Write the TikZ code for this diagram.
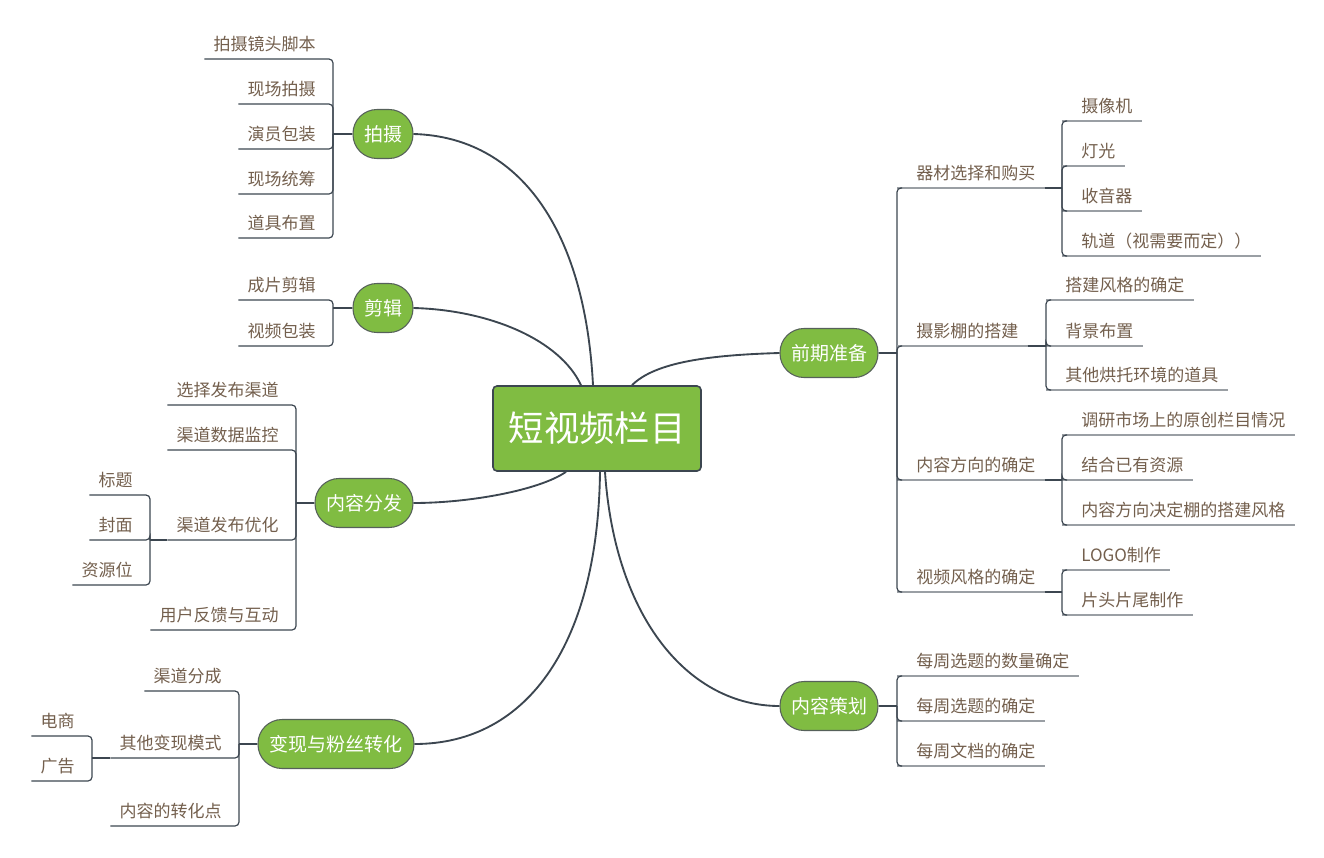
\documentclass[tikz,border=0pt]{standalone}
\usepackage{fontspec}
\setmainfont{Noto Sans CJK SC}
\usetikzlibrary{calc}
\definecolor{lineC}{HTML}{3C4650}
\definecolor{ulC}{HTML}{9A9FA4}
\definecolor{txtC}{HTML}{735F4D}
\definecolor{grn}{HTML}{80BC42}
\definecolor{bord}{HTML}{56615A}
\begin{document}
\begin{tikzpicture}[x=0.75pt,y=-0.75pt,
  every node/.style={font=\fontsize{12.75pt}{14pt}\selectfont},
  leaf/.style={text=txtC, inner xsep=6.75pt, inner ysep=6.5pt, text height=11.5pt, text depth=0pt},
  lleaf/.style={leaf, anchor=south east},
  rleaf/.style={leaf, anchor=south west},
  mainnode/.style={fill=grn, draw=bord, line width=0.8pt, rounded corners=18pt, minimum height=36.75pt, inner xsep=0pt, text=white, font=\fontsize{14.25pt}{16pt}\selectfont},
  brk/.style={draw=lineC, line width=0.9pt, rounded corners=3pt},
  ulR/.style={draw=ulC, line width=1.1pt},
  ext/.style={draw=lineC, line width=1.3pt},
  stem/.style={draw=lineC, line width=1.5pt},
  curveC/.style={draw=lineC, line width=1.4pt},
]
\useasboundingbox (0,0) rectangle (1324,857);

% central node
\node[fill=grn, draw=lineC, line width=1.2pt, rounded corners=3pt, minimum width=156pt, minimum height=63.75pt, inner sep=0pt, text=white, font=\fontsize{26.5pt}{30pt}\selectfont] (C) at (597,428.5) {短视频栏目};

% main nodes
\node[mainnode, minimum width=45pt] (P) at (383,134) {拍摄};
\node[mainnode, minimum width=45pt] (J) at (383,308) {剪辑};
\node[mainnode, minimum width=73.5pt] (F) at (364,503) {内容分发};
\node[mainnode, minimum width=117pt] (B) at (336,744) {变现与粉丝转化};
\node[mainnode, minimum width=73.5pt] (Q) at (829,353) {前期准备};
\node[mainnode, minimum width=73.5pt] (N) at (829,706) {内容策划};

% curves
\draw[curveC] ($(C.north)+(-4,0)$) .. controls (585,230) and (520,137) .. (P.east);
\draw[curveC] ($(C.north)+(-16,0)$) .. controls (560,340) and (490,310) .. (J.east);
\draw[curveC] ($(C.south)+(-31,0)$) .. controls (540,490) and (470,503) .. (F.east);
\draw[curveC] ($(C.south)+(3,0)$) .. controls (598,640) and (530,744) .. (B.east);
\draw[curveC] ($(C.north)+(35,0)$) .. controls (655,362) and (710,355) .. (Q.west);
\draw[curveC] ($(C.south)+(8,0)$) .. controls (615,620) and (690,706) .. (N.west);

% ---------- 拍摄 ----------
\coordinate (jP) at (333,134);
\draw[stem] (P.west) -- (jP);
\node[lleaf] (p1) at (325,59) {拍摄镜头脚本};
\node[lleaf] (p2) at (325,104) {现场拍摄};
\node[lleaf] (p3) at (325,149) {演员包装};
\node[lleaf] (p4) at (325,194) {现场统筹};
\node[lleaf] (p5) at (325,238) {道具布置};
\foreach \n in {p1,p2,p3,p4,p5} \draw[brk] (jP) |- (\n.south east) -- (\n.south west);

% ---------- 剪辑 ----------
\coordinate (jJ) at (333,308);
\draw[stem] (J.west) -- (jJ);
\node[lleaf] (j1) at (325,300) {成片剪辑};
\node[lleaf] (j2) at (325,346) {视频包装};
\foreach \n in {j1,j2} \draw[brk] (jJ) |- (\n.south east) -- (\n.south west);

% ---------- 内容分发 ----------
\coordinate (jF) at (296,503);
\draw[stem] (F.west) -- (jF);
\node[lleaf] (f1) at (288,405) {选择发布渠道};
\node[lleaf] (f2) at (288,450) {渠道数据监控};
\node[lleaf] (f3) at (288,540) {渠道发布优化};
\node[lleaf] (f4) at (288,630) {用户反馈与互动};
\foreach \n in {f1,f2,f3,f4} \draw[brk] (jF) |- (\n.south east) -- (\n.south west);
\coordinate (jF3) at (150,540);
\draw[ext] (f3.south west) -- (jF3);
\node[lleaf] (g1) at (142,495) {标题};
\node[lleaf] (g2) at (142,540) {封面};
\node[lleaf] (g3) at (142,585) {资源位};
\foreach \n in {g1,g2,g3} \draw[brk] (jF3) |- (\n.south east) -- (\n.south west);

% ---------- 变现与粉丝转化 ----------
\coordinate (jB) at (239,744);
\draw[stem] (B.west) -- (jB);
\node[lleaf] (b1) at (231,691) {渠道分成};
\node[lleaf] (b2) at (231,758) {其他变现模式};
\node[lleaf] (b3) at (231,826) {内容的转化点};
\foreach \n in {b1,b2,b3} \draw[brk] (jB) |- (\n.south east) -- (\n.south west);
\coordinate (jB2) at (92,758);
\draw[ext] (b2.south west) -- (jB2);
\node[lleaf] (h1) at (84,736) {电商};
\node[lleaf] (h2) at (84,781) {广告};
\foreach \n in {h1,h2} \draw[brk] (jB2) |- (\n.south east) -- (\n.south west);

% ---------- 前期准备 ----------
\coordinate (jQ) at (897,353);
\draw[stem] (Q.east) -- (jQ);
\node[rleaf] (e1) at (907,188) {器材选择和购买};
\node[rleaf] (e2) at (907,346) {摄影棚的搭建};
\node[rleaf] (e3) at (907,480) {内容方向的确定};
\node[rleaf] (e4) at (907,592) {视频风格的确定};
\foreach \n in {e1,e2,e3,e4} {
  \draw[ulR] (jQ |- \n.south) -- (\n.south east);
  \draw[brk] (jQ) |- ($(jQ |- \n.south)+(5,0)$);
}
\coordinate (jE1) at (1062,188);
\coordinate (jE2) at (1046,346);
\coordinate (jE3) at (1062,480);
\coordinate (jE4) at (1062,592);
\draw[ext] (e1.south east) -- (jE1);
\draw[ext] (e2.south east) -- (jE2);
\draw[ext] (e3.south east) -- (jE3);
\draw[ext] (e4.south east) -- (jE4);

\node[rleaf] (k1) at (1072,121) {摄像机};
\node[rleaf] (k2) at (1072,166) {灯光};
\node[rleaf] (k3) at (1072,211) {收音器};
\node[rleaf] (k4) at (1072,256) {轨道（视需要而定））};
\node[rleaf] (m1) at (1056,300) {搭建风格的确定};
\node[rleaf] (m2) at (1056,346) {背景布置};
\node[rleaf] (m3) at (1056,390) {其他烘托环境的道具};
\node[rleaf] (r1) at (1072,435) {调研市场上的原创栏目情况};
\node[rleaf] (r2) at (1072,480) {结合已有资源};
\node[rleaf] (r3) at (1072,525) {内容方向决定棚的搭建风格};
\node[rleaf] (s1) at (1072,570) {LOGO制作};
\node[rleaf] (s2) at (1072,615) {片头片尾制作};
\foreach \j/\n in {jE1/k1,jE1/k2,jE1/k3,jE1/k4,jE2/m1,jE2/m2,jE2/m3,jE3/r1,jE3/r2,jE3/r3,jE4/s1,jE4/s2} {
  \draw[ulR] (\j |- \n.south) -- (\n.south east);
  \draw[brk] (\j) |- ($(\j |- \n.south)+(5,0)$);
}

% ---------- 内容策划 ----------
\coordinate (jN) at (897,706);
\draw[stem] (N.east) -- (jN);
\node[rleaf] (n1) at (907,676) {每周选题的数量确定};
\node[rleaf] (n2) at (907,721) {每周选题的确定};
\node[rleaf] (n3) at (907,766) {每周文档的确定};
\foreach \n in {n1,n2,n3} {
  \draw[ulR] (jN |- \n.south) -- (\n.south east);
  \draw[brk] (jN) |- ($(jN |- \n.south)+(5,0)$);
}
\end{tikzpicture}
\end{document}
